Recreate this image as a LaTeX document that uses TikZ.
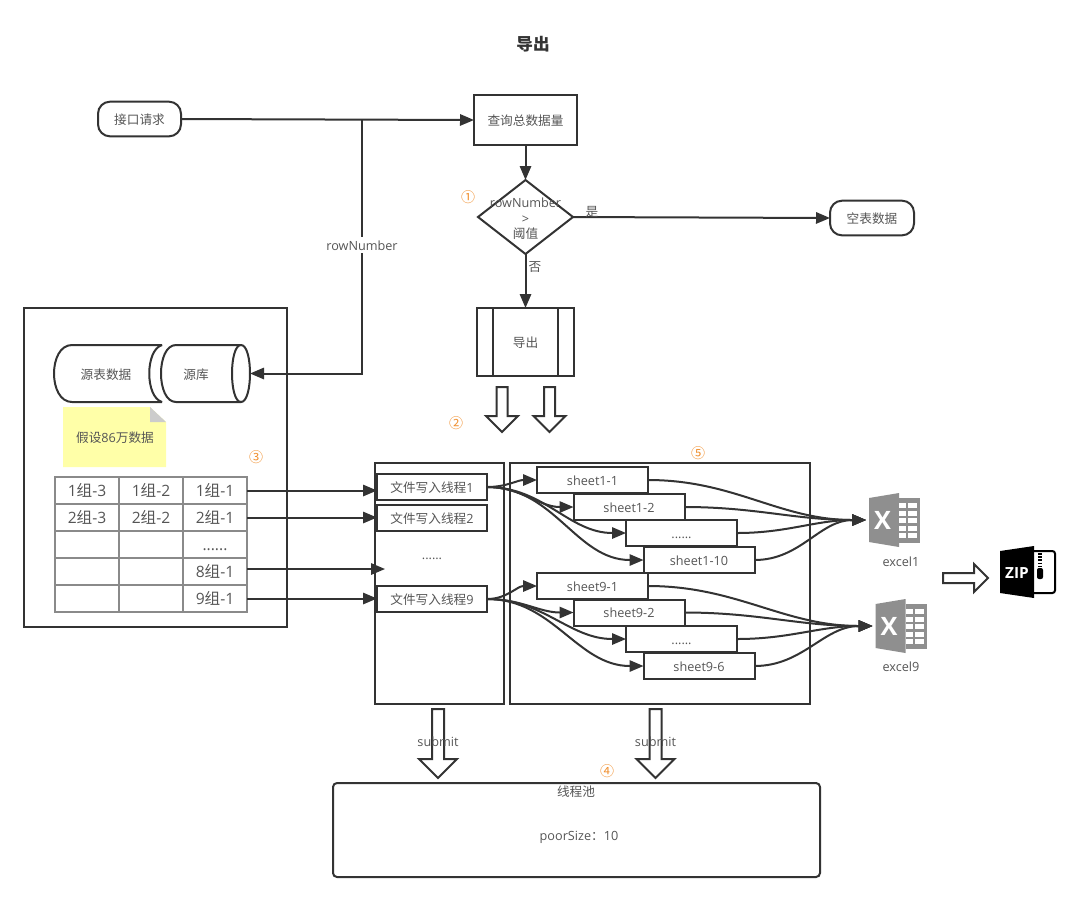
\documentclass[tikz,border=0pt]{standalone}
\usepackage{fontspec}
\usepackage{xcolor}
\usetikzlibrary{
    arrows.meta,
    shapes.geometric
}
\setmainfont{Open Sans}
\newfontfamily\cjk{Noto Sans CJK SC}
\newcommand{\zh}[1]{{\cjk #1}}
\definecolor{linedark}{HTML}{333333}
\definecolor{textgray}{HTML}{555555}
\definecolor{gridgray}{HTML}{8A8A8A}
\definecolor{markorange}{HTML}{F09030}
\definecolor{noteyellow}{HTML}{FFFFA8}
\definecolor{foldgray}{HTML}{CCCCCC}
\definecolor{iconGray}{HTML}{8F8F8F}
\tikzset{
    every node/.style={text=textgray, font=\fontsize{9.5}{12}\selectfont, inner sep=0pt, outer sep=0pt, text height=8.9pt, text depth=1pt},
    freetext/.style={text height=, text depth=},
    flow/.style={draw=linedark, line width=1.5pt, -{Triangle[length=10.5pt,width=8.5pt]}},
    boxline/.style={draw=linedark, line width=1.5pt},
    procbox/.style={boxline, rectangle, minimum width=77.25pt, minimum height=37.5pt},
    termbox/.style={boxline, rectangle, rounded corners=9pt, minimum height=26pt},
    threadbox/.style={boxline, rectangle, minimum width=82.5pt, minimum height=19.5pt},
    sheetbox/.style={boxline, rectangle, minimum width=83.25pt, minimum height=19.5pt},
    framebox/.style={boxline, rectangle},
    gridcell/.style={draw=gridgray, line width=0.8pt, rectangle, minimum width=48pt, minimum height=20.25pt, text height=10.4pt, font=\fontsize{11.7}{12}\selectfont},
    marknum/.style={text=markorange, text height=10.4pt, font=\cjk\fontsize{10.5}{12}\selectfont},
    pics/blockarrow/.style n args={3}{code={
        \draw[draw=linedark, line width=1.5pt, fill=white, line join=miter]
            (0,-#3) -- (#1-#2,-#3) -- (#1-#2,-#2) -- (#1,0) -- (#1-#2,#2) -- (#1-#2,#3) -- (0,#3) -- cycle;
    }},
    pics/excelicon/.style={code={
        \fill[iconGray] (0,5) -- (30,0) -- (30,54) -- (0,49) -- cycle;
        \fill[iconGray] (30,5) rectangle (51,50);
        \foreach \rowy in {10,17.5,25,32.5,40} {
            \fill[white] (30,\rowy) rectangle (37,\rowy+5);
            \fill[white] (39,\rowy) rectangle (48,\rowy+5);
        }
        \node[freetext, text=white, font=\bfseries\fontsize{19}{21}\selectfont] (-letter) at (13.5,27) {X};
        \coordinate (-in) at (-3,27);
    }}
}
\begin{document}
\begin{tikzpicture}[x=0.75pt, y=-0.75pt]
    \useasboundingbox (0,0) rectangle (1080,901);

    \node[freetext, text=linedark, font=\cjk\bfseries\fontsize{12.5}{14}\selectfont] (title) at (533,44) {导出};

    % top flow
    \node[termbox, minimum width=62.25pt] (api) at (139.5,119) {\zh{接口请求}};
    \node[procbox] (query) at (525.5,120) {\zh{查询总数据量}};
    \node[boxline, diamond, minimum width=71.25pt, minimum height=55.5pt] (decide) at (525.5,217) {};
    \node[freetext, align=center] (decidetxt) at (525.5,219) {rowNumber\\[-0.4pt]>\\[-0.4pt]\zh{阈值}};
    \node[termbox, minimum width=63pt] (emptytable) at (872,218) {\zh{空表数据}};
    \node[procbox, minimum height=51pt, minimum width=72.75pt] (export) at (525.5,342) {\zh{导出}};
    \draw[boxline] (493,308) -- (493,376);
    \draw[boxline] (557.5,308) -- (557.5,376);

    \draw[flow] (api.east) -- (query.west);
    \draw[flow] (query.south) -- (decide.north);
    \draw[flow] (decide.east) -- (emptytable.west);
    \draw[flow] (decide.south) -- (export.north);
    \node (yes) at (592,211) {\zh{是}};
    \node (no) at (535,266) {\zh{否}};

    \pic at (502,387) [rotate=-90] {blockarrow={45}{16}{5.5}};
    \pic at (549.5,387) [rotate=-90] {blockarrow={45}{16}{5.5}};
    \node[marknum] (mark1) at (468,196) {①};
    \node[marknum] (mark2) at (456,422) {②};
    \node[marknum] (mark3) at (256,456) {③};
    \node[marknum] (mark4) at (607,770) {④};
    \node[marknum] (mark5) at (698,452) {⑤};

    % source side
    \node[framebox, minimum width=197.25pt, minimum height=239.25pt] (srcframe) at (155.5,467.5) {};
    \draw[boxline] (162,345) -- (72,345) .. controls (48,345) and (48,402) .. (72,402) -- (162,402);
    \draw[boxline] (162,345) .. controls (145,350) and (145,397) .. (162,402);
    \draw[boxline, fill=white] (241,345) -- (176,345) .. controls (156,345) and (156,402) .. (176,402) -- (241,402);
    \draw[boxline, fill=white] (241,345) .. controls (253,345) and (253,402) .. (241,402) .. controls (229,402) and (229,345) .. (241,345);
    \node[minimum width=67.5pt, minimum height=42.75pt] (srcdb) at (205,373.5) {};
    \node (srctabletxt) at (106,374) {\zh{源表数据}};
    \node (srcdbtxt) at (196,374) {\zh{源库}};
    \coordinate (split) at (362,119);
    \draw[flow] (split) |- (srcdb.east);
    \node[fill=white, inner sep=1pt] (rownum) at (362,245) {rowNumber};
    \fill[noteyellow] (63,407) -- (150,407) -- (166,422) -- (166,467) -- (63,467) -- cycle;
    \fill[foldgray] (150,407) -- (166,422) -- (150,422) -- cycle;
    \node (note) at (115,437) {\zh{假设}86\zh{万数据}};

    \node[gridcell] (g13) at (87,490.5) {1\zh{组}-3};
    \node[gridcell] (g12) at (151,490.5) {1\zh{组}-2};
    \node[gridcell] (g11) at (215,490.5) {1\zh{组}-1};
    \node[gridcell] (g23) at (87,517.5) {2\zh{组}-3};
    \node[gridcell] (g22) at (151,517.5) {2\zh{组}-2};
    \node[gridcell] (g21) at (215,517.5) {2\zh{组}-1};
    \node[gridcell] (g33) at (87,544.5) {};
    \node[gridcell] (g32) at (151,544.5) {};
    \node[gridcell] (g31) at (215,544.5) {......};
    \node[gridcell] (g83) at (87,571.5) {};
    \node[gridcell] (g82) at (151,571.5) {};
    \node[gridcell] (g81) at (215,571.5) {8\zh{组}-1};
    \node[gridcell] (g93) at (87,598.5) {};
    \node[gridcell] (g92) at (151,598.5) {};
    \node[gridcell] (g91) at (215,598.5) {9\zh{组}-1};

    % threads
    \node[framebox, minimum width=96.75pt, minimum height=180.75pt] (threadframe) at (439.5,583.5) {};
    \node[threadbox] (thread1) at (432,487) {\zh{文件写入线程}1};
    \node[threadbox] (thread2) at (432,518) {\zh{文件写入线程}2};
    \node (threaddots) at (432,554) {......};
    \coordinate (thread8) at (385,569);
    \node[threadbox] (thread9) at (432,599) {\zh{文件写入线程}9};
    \draw[flow] (g11.east) -- (g11.east -| thread1.west);
    \draw[flow] (g21.east) -- (g21.east -| thread2.west);
    \draw[flow] (g81.east |- thread8) -- (thread8);
    \draw[flow] (g91.east) -- (g91.east -| thread9.west);

    % sheets
    \node[framebox, minimum width=225pt, minimum height=180.75pt] (sheetframe) at (660,583.5) {};
    \node[sheetbox] (sheetA1) at (592.5,480) {sheet1-1};
    \node[sheetbox] (sheetA2) at (629,507) {sheet1-2};
    \node[sheetbox] (sheetA3) at (681.5,533) {......};
    \node[sheetbox] (sheetA4) at (699,560) {sheet1-10};
    \node[sheetbox] (sheetB1) at (592.5,586) {sheet9-1};
    \node[sheetbox] (sheetB2) at (629,612.5) {sheet9-2};
    \node[sheetbox] (sheetB3) at (681.5,639) {......};
    \node[sheetbox] (sheetB4) at (699,666) {sheet9-6};

    \pic (excelA) at (869,493) {excelicon};
    \pic (excelB) at (875.5,599) {excelicon};
    \node (excelAtxt) at (901,561) {excel1};
    \node (excelBtxt) at (901,666) {excel9};

    \foreach \sheetname in {sheetA1,sheetA2,sheetA3,sheetA4} {
        \draw[flow] (thread1.east) to[out=0, in=180] (\sheetname.west);
        \draw[flow] (\sheetname.east) to[out=0, in=180] (excelA-in);
    }
    \foreach \sheetname in {sheetB1,sheetB2,sheetB3,sheetB4} {
        \draw[flow] (thread9.east) to[out=0, in=180] (\sheetname.west);
        \draw[flow] (\sheetname.east) to[out=0, in=180] (excelB-in);
    }

    % zip
    \pic at (943,578) {blockarrow={45}{14}{5}};
    \draw[draw=black, line width=1.5pt, rounded corners=2pt] (1034,551) -- (1055,551) -- (1055,593) -- (1034,593);
    \fill[black] (1000,551) -- (1034,546) -- (1034,598) -- (1000,593) -- cycle;
    \node[freetext, text=white, font=\bfseries\fontsize{11.5}{14}\selectfont] (ziptxt) at (1017,573) {ZIP};
    \draw[black, line width=3pt, dash pattern=on 1.2pt off 1.2pt] (1040,553) -- (1040,567);
    \fill[black, rounded corners=1.5pt] (1037,568) rectangle (1043,579);

    % pool
    \node[boxline, rectangle, rounded corners=3pt, minimum width=365.25pt, minimum height=70.5pt] (pool) at (576.5,830) {};
    \node (pooltitle) at (576,791) {\zh{线程池}};
    \node (poolsize) at (579,835) {poorSize\zh{：}10};
    \pic at (438,709) [rotate=-90] {blockarrow={69}{19}{6}};
    \pic at (655.5,709) [rotate=-90] {blockarrow={69}{19}{6}};
    \node (submitA) at (438,741) {submit};
    \node (submitB) at (655.5,741) {submit};
\end{tikzpicture}
\end{document}
